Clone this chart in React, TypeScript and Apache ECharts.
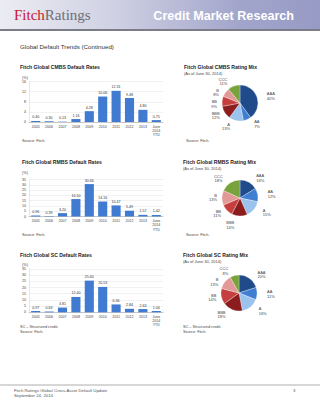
import React, { useEffect, useRef } from "react";
import * as echarts from "echarts";

// Default rate categories (years, last one is the partial-year figure)
const years = ["2005", "2006", "2007", "2008", "2009", "2010", "2011", "2012", "2013", "June\n2014\nYTD"];
const cmbsRates = [0.4, 0.3, 0.13, 1.16, 4.28, 10.06, 12.31, 9.48, 4.8, 0.75];
const rmbsRates = [0.96, 0.39, 3.2, 16.5, 30.66, 14.16, 10.47, 5.49, 1.57, 1.42];
const scRates = [0.97, 0.63, 3.81, 12.4, 25.6, 20.53, 6.36, 2.84, 2.63, 1.04];

// Rating mix, as of June 30, 2014 (%)
const ratings = ["AAA", "AA", "A", "BBB", "BB", "B", "CCC"];
const cmbsMix = [40, 7, 13, 12, 9, 8, 11];
const rmbsMix = [16, 12, 15, 14, 11, 13, 18];
const scMix = [20, 11, 16, 18, 14, 13, 8];
const ratingColors = ["#1F4B8A", "#3F7ED0", "#9CC2EE", "#8C1D1F", "#C43F3D", "#E29A98", "#77A23C"];

const FONT = "Liberation Sans, Arial, sans-serif";
const BAR = "#417BD1";

function barGridAxes(idx: number, max: number, interval: number) {
  const xAxis = {
    type: "category",
    gridIndex: idx,
    data: years,
    axisLine: { lineStyle: { color: "#A8A8A8", width: 0.6 } },
    axisTick: { show: false },
    axisLabel: { fontSize: 3.6, lineHeight: 4.2, color: "#444", margin: 2.5, interval: 0, fontFamily: FONT },
  };
  const yAxis = {
    type: "value",
    gridIndex: idx,
    min: 0,
    max,
    interval,
    axisLine: { show: true, lineStyle: { color: "#D0D0D0", width: 0.5 } },
    axisTick: { show: false },
    splitLine: { lineStyle: { color: "#E4E4E4", width: 0.5 } },
    axisLabel: { fontSize: 3.6, color: "#444", margin: 3, fontFamily: FONT },
  };
  return { xAxis, yAxis };
}

function barSeries(idx: number, data: number[]) {
  return {
    type: "bar",
    xAxisIndex: idx,
    yAxisIndex: idx,
    data,
    barWidth: "68%",
    itemStyle: { color: BAR },
    label: {
      show: true,
      position: "top",
      distance: 1.5,
      fontSize: 3.6,
      color: "#333",
      fontFamily: FONT,
      formatter: (p: any) => p.value.toFixed(2),
    },
  };
}

function pieSeries(center: [number, number], values: number[]) {
  return {
    type: "pie",
    center,
    radius: 18,
    startAngle: 90,
    clockwise: true,
    data: ratings.map((r, i) => ({ name: r, value: values[i], itemStyle: { color: ratingColors[i] } })),
    itemStyle: { borderColor: "#ffffff", borderWidth: 0.3 },
    label: {
      show: true,
      position: "outside",
      formatter: "{b}\n{c}%",
      fontSize: 4,
      lineHeight: 4.6,
      color: "#444",
      align: "center",
      fontFamily: FONT,
    },
    labelLine: { show: false, length: 5, length2: 0 },
    emphasis: { disabled: true },
  };
}

function txt(x: number, y: number, text: string, size: number, opts: any = {}) {
  return {
    type: "text",
    x,
    y,
    style: {
      text,
      fontSize: size,
      fontFamily: FONT,
      fill: opts.fill || "#333",
      fontWeight: opts.bold ? "bold" : "normal",
      textVerticalAlign: "middle",
      textAlign: opts.align || "left",
      lineHeight: opts.lineHeight,
    },
  };
}

export default function App() {
  const ref = useRef<HTMLDivElement>(null);

  useEffect(() => {
    if (!ref.current) return;
    const chart = echarts.init(ref.current, undefined, { renderer: "svg" });

    const g1 = barGridAxes(0, 16, 4);
    const g2 = barGridAxes(1, 35, 5);
    const g3 = barGridAxes(2, 35, 5);

    const option: any = {
      animation: false,
      backgroundColor: "#ffffff",
      grid: [
        { left: 29, top: 81.5, width: 134, height: 40.5, outerBoundsMode: "none" },
        { left: 29, top: 179.5, width: 134, height: 37, outerBoundsMode: "none" },
        { left: 29, top: 269, width: 134, height: 43.3, outerBoundsMode: "none" },
      ],
      xAxis: [g1.xAxis, g2.xAxis, g3.xAxis],
      yAxis: [g1.yAxis, g2.yAxis, g3.yAxis],
      series: [
        barSeries(0, cmbsRates),
        barSeries(1, rmbsRates),
        barSeries(2, scRates),
        pieSeries([240, 103], cmbsMix),
        pieSeries([240, 198], rmbsMix),
        pieSeries([239, 293], scMix),
      ],
      graphic: [
        // Page header band
        {
          type: "rect",
          shape: { x: 0, y: 0, width: 320, height: 30 },
          style: {
            fill: new echarts.graphic.LinearGradient(0, 0, 1, 0, [
              { offset: 0, color: "#ECECF3" },
              { offset: 0.35, color: "#D0D1E3" },
              { offset: 0.75, color: "#A2A5CB" },
              { offset: 1, color: "#979AC4" },
            ]),
          },
          z: 0,
        },
        {
          type: "rect",
          shape: { x: 0, y: 29, width: 320, height: 2 },
          style: { fill: "#7C7C88" },
        },
        {
          type: "text",
          x: 14,
          y: 15,
          style: {
            text: "{a|Fitch}{b|Ratings}",
            textVerticalAlign: "middle",
            rich: {
              a: { fontSize: 15, fontFamily: "Liberation Serif, serif", fill: "#C4182E", color: "#C4182E" },
              b: { fontSize: 15, fontFamily: "Liberation Serif, serif", fill: "#6E6E74", color: "#6E6E74" },
            },
          },
        },
        txt(294, 15.5, "Credit Market Research", 12.6, { bold: true, fill: "#ffffff", align: "right" }),
        txt(20, 46, "Global Default Trends (Continued)", 6.2, { fill: "#333" }),

        // Section titles
        txt(20, 67, "Fitch Global CMBS Default Rates", 5.1, { bold: true, fill: "#222" }),
        txt(22, 78, "(%)", 3.8, { fill: "#444" }),
        txt(22, 141, "Source: Fitch.", 3.8, { fill: "#444" }),
        txt(184, 67, "Fitch Global CMBS Rating Mix", 5.1, { bold: true, fill: "#222" }),
        txt(184, 73, "(As of June 30, 2014)", 4, { fill: "#444" }),
        txt(186, 141, "Source: Fitch.", 3.8, { fill: "#444" }),

        txt(22, 162, "Fitch Global RMBS Default Rates", 5.1, { bold: true, fill: "#222" }),
        txt(22, 173, "(%)", 3.8, { fill: "#444" }),
        txt(22, 235, "Source: Fitch.", 3.8, { fill: "#444" }),
        txt(183, 162, "Fitch Global RMBS Rating Mix", 5.1, { bold: true, fill: "#222" }),
        txt(183, 168, "(As of June 30, 2014)", 4, { fill: "#444" }),
        txt(186, 235, "Source: Fitch.", 3.8, { fill: "#444" }),

        txt(20, 255, "Fitch Global SC Default Rates", 5.1, { bold: true, fill: "#222" }),
        txt(22, 265, "(%)", 3.8, { fill: "#444" }),
        txt(20, 327, "SC \u2013 Structured credit.", 3.8, { fill: "#444" }),
        txt(20, 332, "Source: Fitch.", 3.8, { fill: "#444" }),
        txt(183, 255, "Fitch Global SC Rating Mix", 5.1, { bold: true, fill: "#222" }),
        txt(183, 261, "(As of June 30, 2014)", 4, { fill: "#444" }),
        txt(183, 327, "SC \u2013 Structured credit.", 3.8, { fill: "#444" }),
        txt(183, 332, "Source: Fitch.", 3.8, { fill: "#444" }),

        // Footer
        {
          type: "line",
          shape: { x1: 0, y1: 385, x2: 320, y2: 385 },
          style: { stroke: "#9A9A9A", lineWidth: 0.8 },
        },
        txt(14, 390, "Fitch Ratings Global Cross-Asset Default Update", 4.3, { fill: "#555" }),
        txt(14, 395, "September 24, 2014", 4.3, { fill: "#555" }),
        txt(293, 390, "3", 4.3, { fill: "#555" }),
      ],
    };

    chart.setOption(option);
    return () => chart.dispose();
  }, []);

  return (
    <div
      ref={ref}
      style={{ position: "absolute", left: 0, top: 0, width: 320, height: 414, background: "#fff" }}
    />
  );
}
